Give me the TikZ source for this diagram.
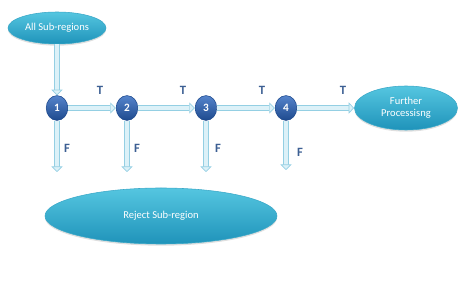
\documentclass[tikz,border=0pt]{standalone}
\usepackage{fontspec}
\setmainfont{Carlito}
\usepackage{xcolor}
\usepackage{tikz}
\usetikzlibrary{arrows.meta,shapes.geometric,shadows}
\definecolor{FlowTealTop}{HTML}{55C6E0}
\definecolor{FlowTealBottom}{HTML}{1F93BA}
\definecolor{FlowTealEdge}{HTML}{3AA8C8}
\definecolor{FlowBallTop}{HTML}{5584CC}
\definecolor{FlowBallBottom}{HTML}{1E4A8E}
\definecolor{FlowArrowFill}{HTML}{DCF1F8}
\definecolor{FlowArrowEdge}{HTML}{94CFE3}
\definecolor{FlowLabel}{HTML}{3C5F93}

\tikzset{
  region/.style={ellipse, draw=FlowTealEdge, top color=FlowTealTop,
    bottom color=FlowTealBottom, text=white, align=center, inner sep=0pt,
    font=\fontsize{7.5}{8.5}\selectfont,
    drop shadow={shadow xshift=0pt, shadow yshift=-1.2pt, opacity=0.25}},
  stage/.style={ellipse, draw=FlowBallBottom, top color=FlowBallTop,
    bottom color=FlowBallBottom, text=white, inner sep=0pt,
    minimum width=0.54cm, minimum height=0.62cm,
    font=\fontsize{8}{9}\selectfont\bfseries},
  flow/.style={draw=FlowArrowEdge, double=FlowArrowFill, double distance=2.6pt,
    line width=0.5pt,
    -{Triangle[length=4pt, width=8pt, fill=FlowArrowFill]}},
  branch/.style={text=FlowLabel, font=\fontsize{9}{10}\selectfont\bfseries}
}

\begin{document}
\begin{tikzpicture}
  \useasboundingbox (0,0) rectangle (11.85,7.125);
  % ellipses
  \node[region, minimum width=2.45cm, minimum height=0.8cm] (allsub)
    at (1.425,6.425) {All Sub-regions};
  \node[region, minimum width=2.575cm, minimum height=1.1cm] (further)
    at (10.15,4.425) {Further\\Processisng};
  \node[region, minimum width=5.8cm, minimum height=1.4cm] (reject)
    at (4.025,1.725) {Reject Sub-region};
  % tests
  \node[stage] (n1) at (1.425,4.425) {1};
  \node[stage] (n2) at (3.175,4.425) {2};
  \node[stage] (n3) at (5.15,4.425) {3};
  \node[stage] (n4) at (7.15,4.425) {4};
  \coordinate (f1) at (1.425,2.825);
  \coordinate (f2) at (3.175,2.825);
  \coordinate (f3) at (5.15,2.825);
  \coordinate (f4) at (7.15,2.875);
  % connectors
  \draw[flow] (allsub) -- (n1);
  \draw[flow] (n1) -- (n2);
  \draw[flow] (n2) -- (n3);
  \draw[flow] (n3) -- (n4);
  \draw[flow] (n4) -- (further);
  \foreach \i in {1,...,4}
    \draw[flow] (n\i) -- (f\i);
  % labels
  \node[branch] (t1) at (2.5,4.875) {T};
  \node[branch] (t2) at (4.575,4.875) {T};
  \node[branch] (t3) at (6.55,4.875) {T};
  \node[branch] (t4) at (8.575,4.875) {T};
  \node[branch] (l1) at (1.675,3.425) {F};
  \node[branch] (l2) at (3.425,3.425) {F};
  \node[branch] (l3) at (5.45,3.425) {F};
  \node[branch] (l4) at (7.5,3.325) {F};
\end{tikzpicture}
\end{document}
